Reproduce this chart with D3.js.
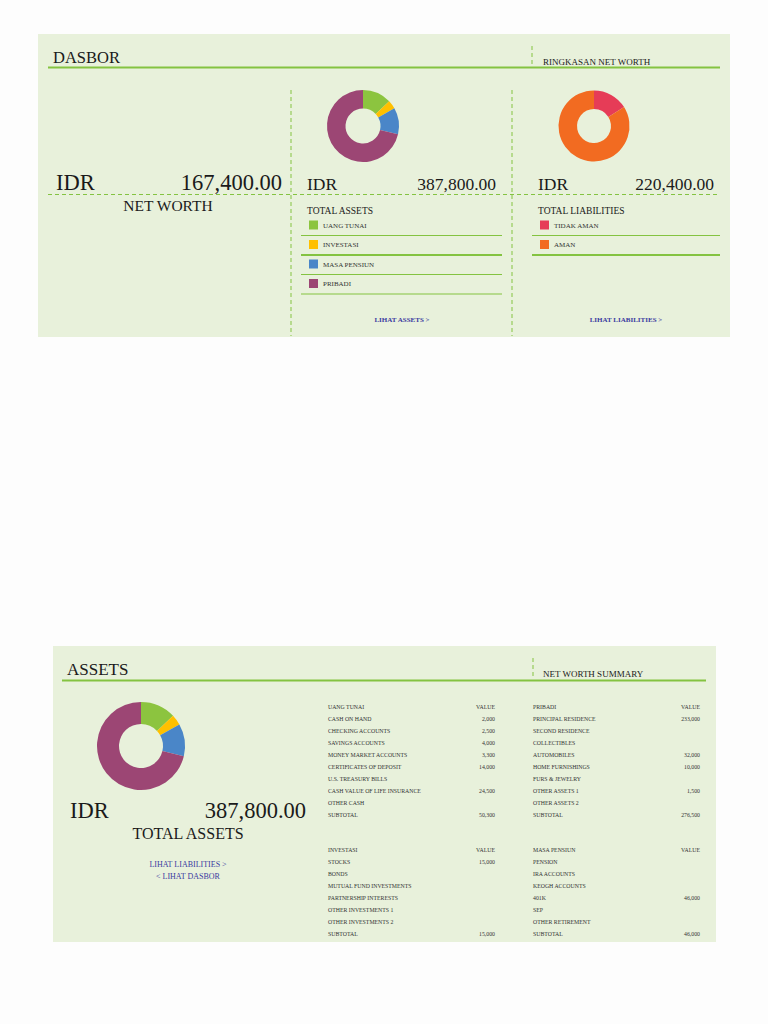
<!DOCTYPE html>
<html>
<head>
<meta charset="utf-8">
<script src="https://cdn.jsdelivr.net/npm/d3@7"></script>
<style>
  body { margin: 0; background: #fdfdfd; }
  svg { display: block; font-family: "Liberation Serif", "DejaVu Serif", serif; }
</style>
</head>
<body>
<svg id="chart" width="768" height="1024"></svg>
<script>
// asset categories
var assetNames = ['UANG TUNAI', 'INVESTASI', 'MASA PENSIUN', 'PRIBADI'];
var assetValues = [50300, 15000, 46000, 276500];
var assetColors = ['#8cc43f', '#ffc000', '#4a86c8', '#9c4674'];

// liability categories
var liabNames = ['TIDAK AMAN', 'AMAN'];
var liabValues = [35400, 185000];
var liabColors = ['#e63c57', '#f26b21'];

// detail tables (name, value or null)
var cashRows = ['CASH ON HAND', 'CHECKING ACCOUNTS', 'SAVINGS ACCOUNTS', 'MONEY MARKET ACCOUNTS',
  'CERTIFICATES OF DEPOSIT', 'U.S. TREASURY BILLS', 'CASH VALUE OF LIFE INSURANCE', 'OTHER CASH'];
var cashValues = [2000, 2500, 4000, 3300, 14000, null, 24500, null];

var personalRows = ['PRINCIPAL RESIDENCE', 'SECOND RESIDENCE', 'COLLECTIBLES', 'AUTOMOBILES',
  'HOME FURNISHINGS', 'FURS & JEWELRY', 'OTHER ASSETS 1', 'OTHER ASSETS 2'];
var personalValues = [233000, null, null, 32000, 10000, null, 1500, null];

var investRows = ['STOCKS', 'BONDS', 'MUTUAL FUND INVESTMENTS', 'PARTNERSHIP INTERESTS',
  'OTHER INVESTMENTS 1', 'OTHER INVESTMENTS 2'];
var investValues = [15000, null, null, null, null, null];

var retireRows = ['PENSION', 'IRA ACCOUNTS', 'KEOGH ACCOUNTS', '401K', 'SEP', 'OTHER RETIREMENT'];
var retireValues = [null, null, null, 46000, null, null];

var GREEN = '#84c341', PANEL = '#e8f1db', LINK = '#3a3aa0', INK = '#1a1a1a';

var svg = d3.select('#chart');
var fmt = d3.format(',');
var money = d3.format(',.2f');
var netWorth = d3.sum(assetValues) - d3.sum(liabValues);

function donut(g, values, colors, cx, cy, r0, r1) {
  var pie = d3.pie().sort(null)(values);
  var arc = d3.arc().innerRadius(r0).outerRadius(r1);
  g.append('g')
    .attr('transform', 'translate(' + cx + ',' + cy + ')')
    .selectAll('path')
    .data(pie)
    .enter().append('path')
    .attr('d', arc)
    .attr('fill', function(d, i) { return colors[i]; });
}

function text(g, x, y, str, size, opts) {
  opts = opts || {};
  return g.append('text')
    .attr('x', x).attr('y', y)
    .attr('font-size', size)
    .attr('fill', opts.fill || INK)
    .attr('text-anchor', opts.anchor || 'start')
    .attr('font-weight', opts.weight || 'normal')
    .text(str);
}

function vdash(g, x, y1, y2) {
  g.append('line').attr('x1', x).attr('x2', x).attr('y1', y1).attr('y2', y2)
    .attr('stroke', GREEN).attr('stroke-width', 1).attr('stroke-dasharray', '4,3');
}

// ---------- DASBOR panel ----------
var dash = svg.append('g');
dash.append('rect').attr('x', 38).attr('y', 34).attr('width', 692).attr('height', 303).attr('fill', PANEL);

text(dash, 53, 63, 'DASBOR', 16.5);
dash.append('line').attr('x1', 48).attr('x2', 720).attr('y1', 67.5).attr('y2', 67.5)
  .attr('stroke', GREEN).attr('stroke-width', 2);
vdash(dash, 532, 46, 64);
text(dash, 543, 65, 'RINGKASAN NET WORTH', 9);

vdash(dash, 291, 90, 336);
vdash(dash, 512, 90, 336);
dash.append('line').attr('x1', 48).attr('x2', 720).attr('y1', 194.5).attr('y2', 194.5)
  .attr('stroke', GREEN).attr('stroke-width', 1).attr('stroke-dasharray', '4,3');

// net worth column
text(dash, 56, 190, 'IDR', 22.5);
text(dash, 282, 190, money(netWorth), 22.5, { anchor: 'end' });
text(dash, 168, 211, 'NET WORTH', 15.5, { anchor: 'middle' });

// assets column
donut(dash, assetValues, assetColors, 363, 126, 17.5, 36);
text(dash, 307, 190, 'IDR', 17.5);
text(dash, 496, 190, money(d3.sum(assetValues)), 17.5, { anchor: 'end' });
text(dash, 307, 214, 'TOTAL ASSETS', 9.5);

function legend(g, names, colors, x0, x1, y0, thick) {
  var step = 19.5;
  var rows = g.selectAll(null).data(names).enter().append('g')
    .attr('transform', function(d, i) { return 'translate(0,' + (y0 + i * step) + ')'; });
  rows.append('rect').attr('x', x0 + 8).attr('y', -4.5).attr('width', 9).attr('height', 9)
    .attr('fill', function(d, i) { return colors[i]; });
  rows.append('text').attr('x', x0 + 22).attr('y', 2.5).attr('font-size', 7)
    .attr('fill', '#333').text(function(d) { return d; });
  rows.append('line').attr('x1', x0).attr('x2', x1).attr('y1', 10.5).attr('y2', 10.5)
    .attr('stroke', GREEN)
    .attr('stroke-width', function(d, i) { return thick.indexOf(i) >= 0 ? 2.2 : 1.2; });
}
legend(dash, assetNames, assetColors, 301, 502, 225, [1]);
text(dash, 402, 322, 'LIHAT ASSETS >', 7, { anchor: 'middle', fill: LINK, weight: 'bold' });

// liabilities column
donut(dash, liabValues, liabColors, 594, 126, 17, 35.5);
text(dash, 538, 190, 'IDR', 17.5);
text(dash, 714, 190, money(d3.sum(liabValues)), 17.5, { anchor: 'end' });
text(dash, 538, 214, 'TOTAL LIABILITIES', 9.5);
legend(dash, liabNames, liabColors, 532, 720, 225, [1]);
text(dash, 626, 322, 'LIHAT LIABILITIES >', 7, { anchor: 'middle', fill: LINK, weight: 'bold' });

// ---------- ASSETS panel ----------
var bot = svg.append('g');
bot.append('rect').attr('x', 53).attr('y', 646).attr('width', 663).attr('height', 296).attr('fill', PANEL);

text(bot, 67, 675, 'ASSETS', 17);
bot.append('line').attr('x1', 62).attr('x2', 706).attr('y1', 680.5).attr('y2', 680.5)
  .attr('stroke', GREEN).attr('stroke-width', 2);
vdash(bot, 533, 658, 677);
text(bot, 543, 677, 'NET WORTH SUMMARY', 9);

donut(bot, assetValues, assetColors, 141, 746, 22, 44);
text(bot, 70, 818, 'IDR', 22.5);
text(bot, 306, 818, money(d3.sum(assetValues)), 22.5, { anchor: 'end' });
text(bot, 188, 839, 'TOTAL ASSETS', 16, { anchor: 'middle' });
text(bot, 188, 867, 'LIHAT LIABILITIES >', 8, { anchor: 'middle', fill: LINK });
text(bot, 188, 879, '< LIHAT DASBOR', 8, { anchor: 'middle', fill: LINK });

function table(g, title, rows, values, x0, x1, y0) {
  var all = [{ n: title, v: 'VALUE' }];
  rows.forEach(function(r, i) { all.push({ n: r, v: values[i] == null ? '' : fmt(values[i]) }); });
  all.push({ n: 'SUBTOTAL', v: fmt(d3.sum(values)) });
  var y = d3.scaleLinear().domain([0, 1]).range([y0, y0 + 12]);
  var r = g.selectAll(null).data(all).enter().append('g')
    .attr('transform', function(d, i) { return 'translate(0,' + y(i) + ')'; });
  r.append('text').attr('x', x0).attr('font-size', 5.8).attr('fill', '#333').text(function(d) { return d.n; });
  r.append('text').attr('x', x1).attr('font-size', 5.8).attr('fill', '#333')
    .attr('text-anchor', 'end').text(function(d) { return d.v; });
}
table(bot, 'UANG TUNAI', cashRows, cashValues, 328, 495, 709);
table(bot, 'PRIBADI', personalRows, personalValues, 533, 700, 709);
table(bot, 'INVESTASI', investRows, investValues, 328, 495, 852);
table(bot, 'MASA PENSIUN', retireRows, retireValues, 533, 700, 852);
</script>
</body>
</html>
